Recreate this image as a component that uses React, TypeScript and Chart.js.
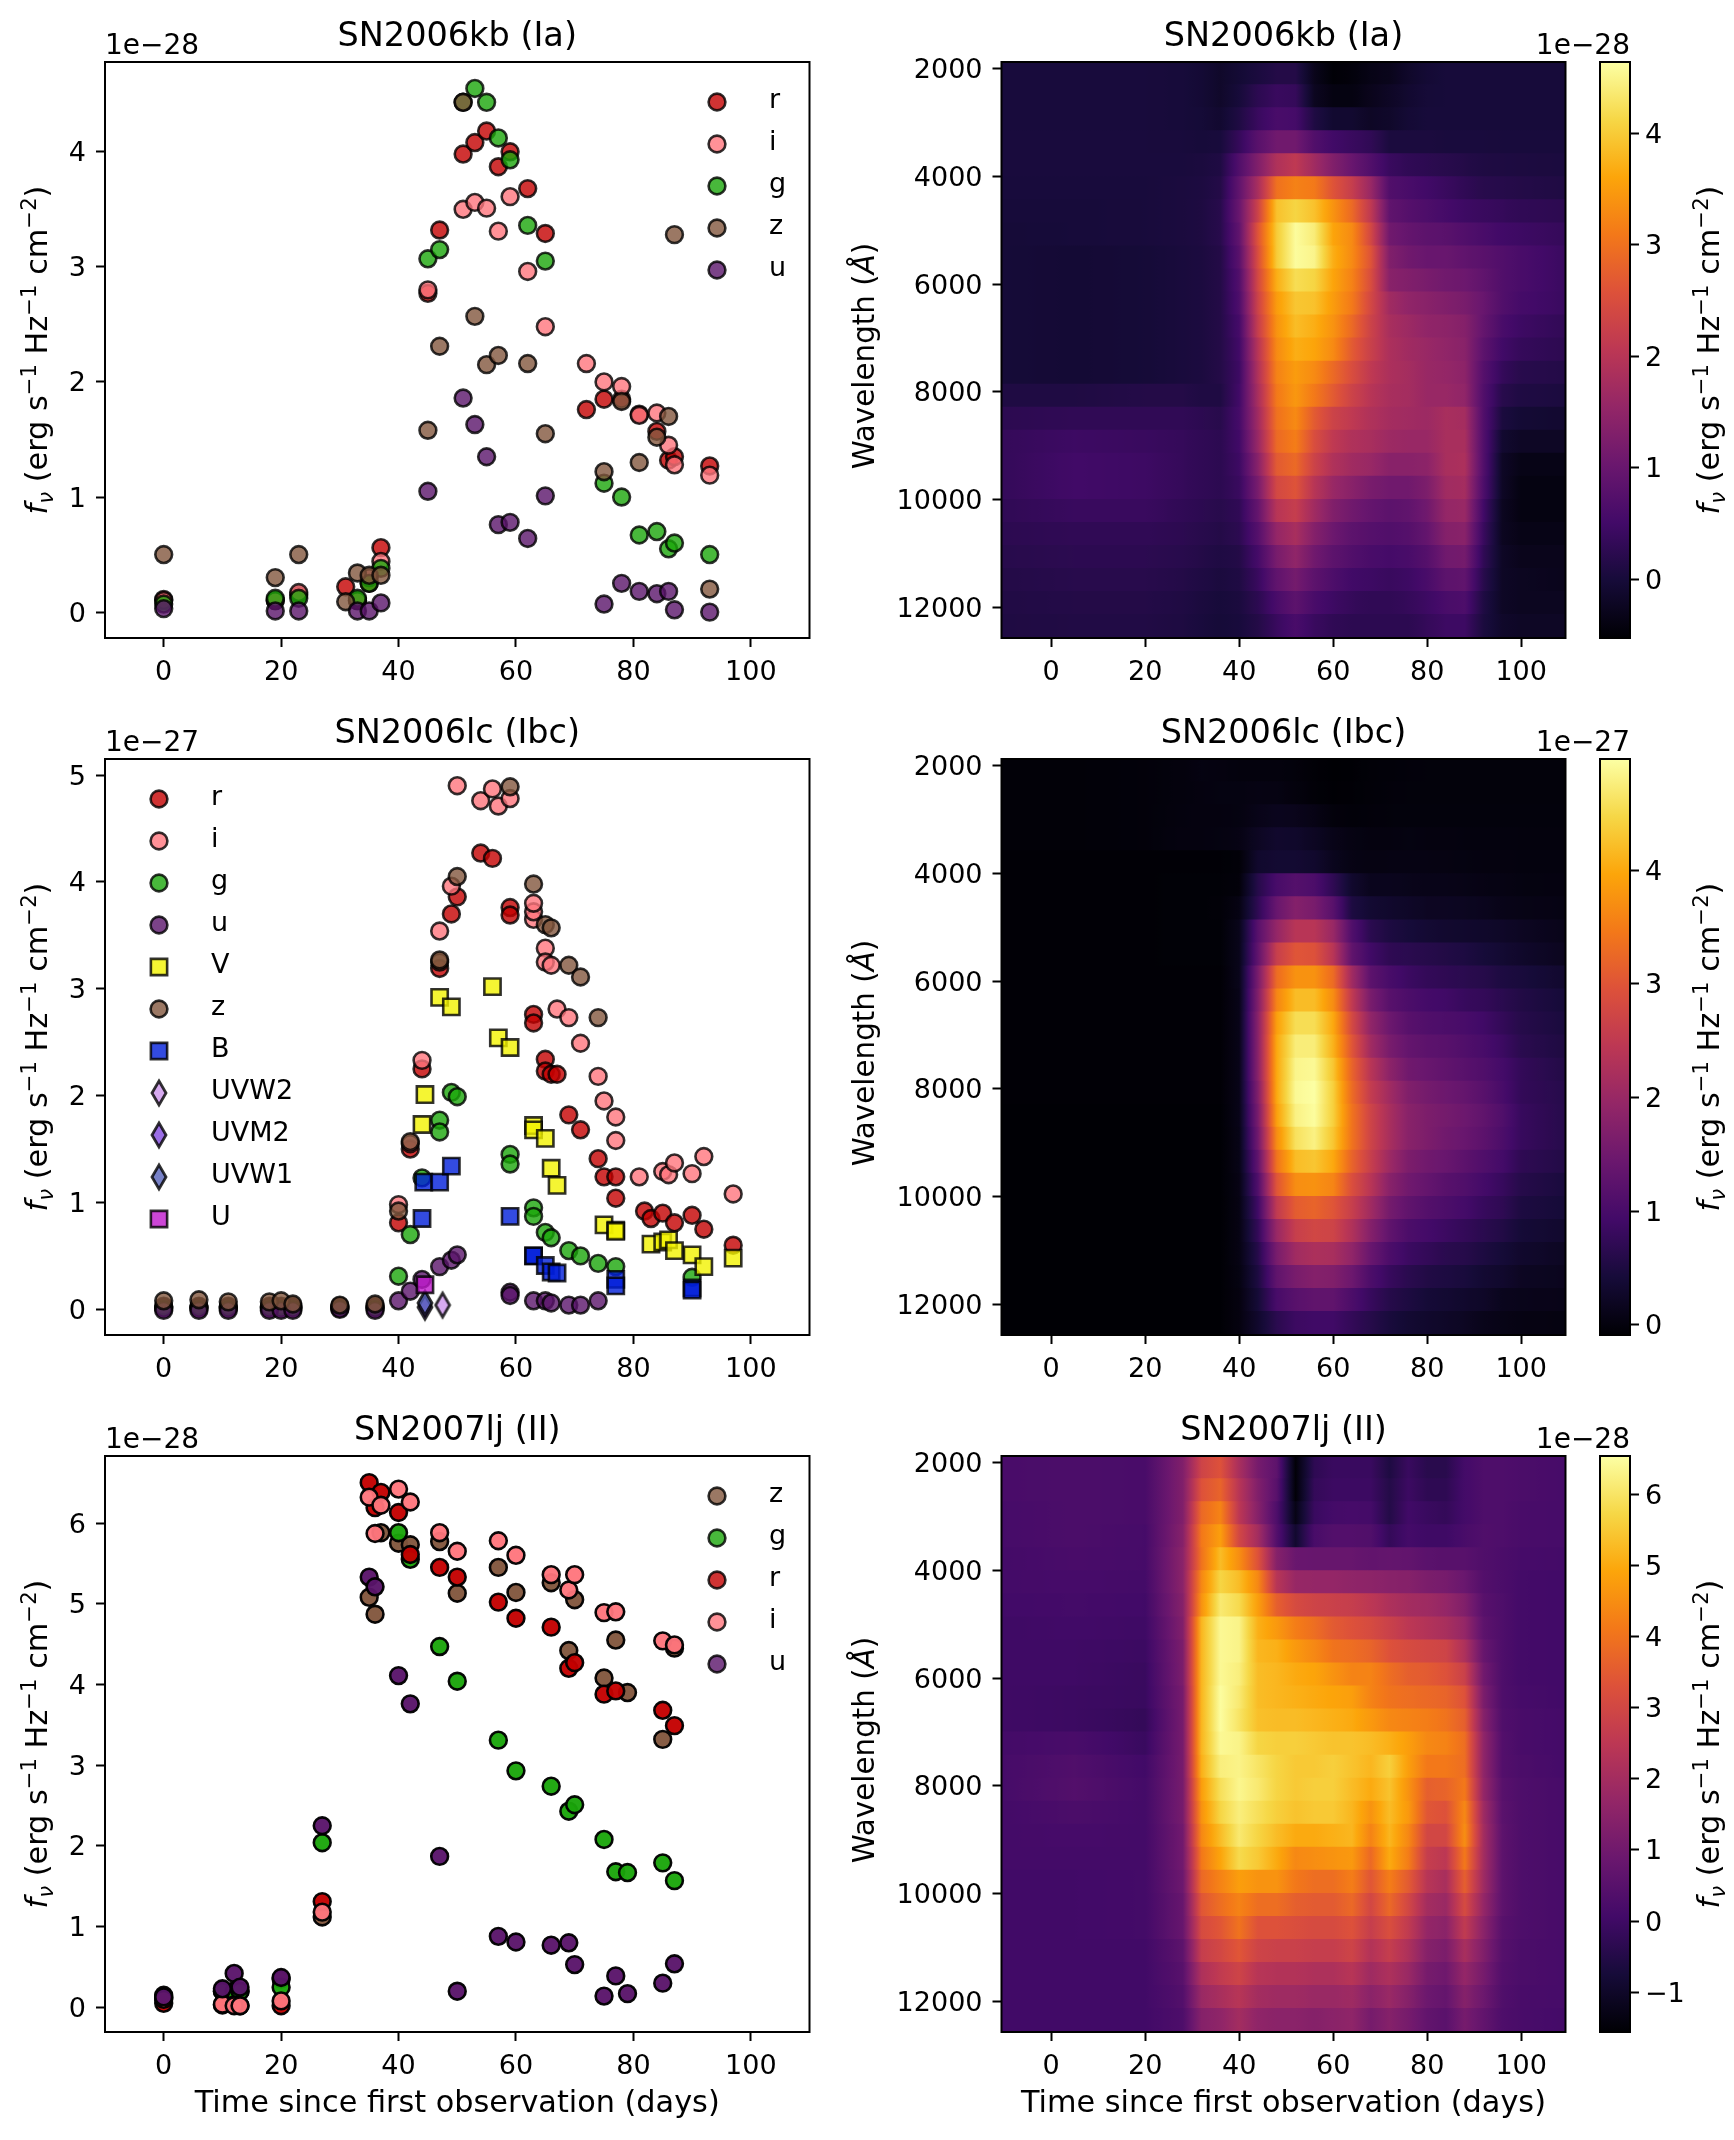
import React, { useEffect, useRef } from 'react';
import { Chart, registerables } from 'chart.js';
import { drawPoint } from 'chart.js/helpers';

Chart.register(...registerables);

type Pt = [number, number];

// light curves, [days, flux in units of the panel's 1e-N]
const kbR: Pt[] = [[0,.11],[19,.1],[23,.15],[31,.22],[33,.1],[35,.25],[37,.56],[45,2.77],[47,3.32],[51,3.98],[53,4.08],[55,4.18],[57,3.87],[59,4.0],[62,3.68],[65,3.29],[72,1.76],[75,1.85],[78,1.85],[81,1.72],[84,1.57],[86,1.32],[87,1.35],[93,1.27]];
const kbI: Pt[] = [[0,.1],[19,.1],[23,.17],[33,.1],[35,.3],[37,.44],[45,2.8],[51,3.5],[53,3.56],[55,3.51],[57,3.31],[59,3.61],[62,2.96],[65,2.48],[72,2.16],[75,2.0],[78,1.96],[81,1.71],[84,1.73],[86,1.45],[87,1.28],[93,1.19]];
const kbG: Pt[] = [[0,.07],[19,.12],[23,.12],[33,.12],[35,.25],[37,.38],[45,3.07],[47,3.15],[51,4.43],[53,4.55],[55,4.43],[57,4.12],[59,3.93],[62,3.36],[65,3.05],[75,1.12],[78,1.0],[81,.67],[84,.7],[86,.55],[87,.6],[93,.5]];
const kbZ: Pt[] = [[0,.5],[19,.3],[23,.5],[31,.09],[33,.34],[35,.32],[37,.32],[45,1.58],[47,2.31],[51,4.43],[53,2.57],[55,2.15],[57,2.23],[62,2.16],[65,1.55],[75,1.22],[78,1.83],[81,1.3],[84,1.52],[86,1.7],[87,3.28],[93,.2]];
const kbU: Pt[] = [[0,.03],[19,.01],[23,.01],[33,.01],[35,.01],[37,.08],[45,1.05],[51,1.86],[53,1.63],[55,1.35],[57,.76],[59,.78],[62,.64],[65,1.01],[75,.07],[78,.25],[81,.18],[84,.16],[86,.18],[87,.02],[93,0]];

const lcR: Pt[] = [[0,.02],[6,.02],[11,.02],[18,.02],[20,.02],[22,.02],[30,.02],[36,.02],[40,.81],[42,1.5],[44,2.25],[47,3.19],[49,3.7],[50,3.86],[54,4.27],[56,4.22],[59,3.76],[59,3.69],[63,2.76],[63,2.68],[65,2.34],[65,2.23],[66,2.2],[67,2.2],[69,1.82],[71,1.68],[74,1.41],[75,1.24],[77,1.24],[77,1.04],[81.9,.92],[83,.85],[85,.9],[87,.81],[90,.88],[92,.75],[97,.6]];
const lcI: Pt[] = [[0,.03],[6,.03],[11,.03],[18,.03],[20,.03],[22,.03],[30,.03],[36,.03],[40,.98],[42,1.55],[44,2.33],[47,3.54],[49,3.96],[50,4.9],[54,4.76],[56,4.87],[57,4.71],[59,4.78],[63,3.65],[63,3.72],[63,3.8],[65,3.38],[65,3.25],[66,3.22],[67,2.81],[69,2.73],[71,2.49],[74,2.18],[75,1.95],[77,1.8],[77,1.58],[81,1.24],[85,1.29],[86,1.26],[87,1.37],[90,1.27],[92,1.43],[97,1.08]];
const lcG: Pt[] = [[0,.01],[6,.01],[11,.01],[18,.01],[20,.01],[22,.01],[30,.01],[36,.01],[40,.31],[42,.7],[44,1.23],[47,1.77],[47,1.66],[49,2.03],[50,1.99],[59,1.45],[59,1.36],[63,.95],[63,.87],[65,.72],[66,.67],[69,.55],[71,.5],[74,.43],[77,.4],[90,.3]];
const lcU: Pt[] = [[0,-.01],[6,-.01],[11,-.01],[18,-.01],[20,-.01],[22,-.01],[30,0],[36,-.01],[40,.08],[42,.17],[44,.28],[47,.4],[49,.46],[50,.51],[59,.16],[59,.13],[63,.08],[65,.08],[66,.06],[69,.04],[71,.04],[74,.08]];
const lcV: Pt[] = [[44.5,2.01],[44,1.73],[47,2.92],[49,2.83],[56,3.02],[57,2.54],[59,2.45],[63,1.72],[63,1.68],[65,1.6],[66,1.32],[67,1.16],[75,.79],[77,.74],[77,.73],[83,.61],[85,.63],[86,.65],[87,.55],[90,.51],[92,.4],[97,.48]];
const lcZ: Pt[] = [[0,.08],[6,.09],[11,.07],[18,.07],[20,.08],[22,.05],[30,.04],[36,.05],[40,.92],[42,1.57],[47,3.25],[47,3.27],[50,4.05],[59,4.89],[63,3.98],[65,3.6],[66,3.57],[69,3.22],[71,3.11],[74,2.73]];
const lcB: Pt[] = [[44,.85],[44.3,1.19],[47,1.19],[49,1.34],[59,.87],[63,.5],[63,.5],[65,.41],[66,.35],[67,.34],[77,.28],[77,.22],[90,.2],[90,.18]];
const lcW2: Pt[] = [[47.5,.04]];
const lcM2: Pt[] = [[44.5,.02]];
const lcW1: Pt[] = [[44.5,.06]];
const lcUU: Pt[] = [[44.5,.23]];

const ljZ: Pt[] = [[0,.15],[10,.2],[12,.2],[13,.2],[20,.35],[27,1.12],[35,5.08],[36,4.87],[37,5.88],[40,5.75],[42,5.73],[47,5.77],[50,5.13],[57,5.45],[60,5.14],[66,5.26],[69,4.42],[70,5.05],[75,4.08],[77,4.55],[79,3.9],[85,3.32],[87,4.45]];
const ljG: Pt[] = [[0,.12],[10,.2],[12,.2],[13,.2],[20,.25],[27,2.04],[40,5.88],[42,5.55],[47,4.47],[50,4.04],[57,3.31],[60,2.93],[66,2.74],[69,2.43],[70,2.51],[75,2.08],[77,1.68],[79,1.67],[85,1.79],[87,1.57]];
const ljR: Pt[] = [[0,.05],[10,.03],[12,.03],[13,.02],[20,.02],[27,1.31],[35,6.5],[36,6.19],[37,6.38],[40,6.13],[42,5.61],[47,5.45],[50,5.33],[57,5.02],[60,4.82],[66,4.71],[69,4.2],[70,4.27],[75,3.88],[77,3.92],[85,3.68],[87,3.49]];
const ljI: Pt[] = [[0,.1],[10,.04],[12,.02],[13,.02],[20,.08],[27,1.18],[35,6.32],[36,5.87],[37,6.22],[40,6.42],[42,6.26],[47,5.88],[50,5.65],[57,5.78],[60,5.6],[66,5.36],[69,5.17],[70,5.36],[75,4.89],[77,4.9],[85,4.54],[87,4.49]];
const ljU: Pt[] = [[0,.13],[10,.23],[12,.42],[13,.25],[20,.37],[27,2.25],[35,5.33],[36,5.21],[40,4.11],[42,3.76],[47,1.87],[50,.2],[57,.88],[60,.81],[66,.77],[69,.8],[70,.53],[75,.14],[77,.39],[79,.17],[85,.3],[87,.54]];

// heat map rows: one row per wavelength, one value per entry of heatDays
const wavelengths = [2089,2517,2945,3373,3801,4229,4656,5084,5512,5940,6368,6796,7223,7651,8079,8507,8935,9363,9790,10218,10646,11074,11502,11930,12357];
const heatDays = [-10,5,20,28,32,36,40,44,48,52,56,60,64,68,72,76,80,84,88,92,96,100,110];

const kbGrid = [
  [.02,.02,.02,0,-.05,-.15,-.05,.05,.15,.15,-.3,-.5,-.45,-.35,-.3,-.15,-.05,0,0,0,0,0,0],
  [.02,.02,.02,0,-.05,-.15,0,.25,.4,.35,-.25,-.4,-.4,-.3,-.2,-.1,-.02,0,0,0,0,0,0],
  [.02,.02,.02,0,-.03,-.1,.1,.4,.6,.55,.1,-.1,-.1,-.2,-.15,-.05,0,0,0,0,0,0,0],
  [.03,.03,.03,.02,0,.02,.35,.8,1.1,1.1,.7,.5,.4,.3,.05,.05,.05,.03,.03,.03,.02,.02,.02],
  [.03,.03,.03,.03,.05,.1,.7,1.3,1.9,2.1,1.7,1.3,1,.7,.4,.3,.25,.2,.15,.1,.08,.07,.05],
  [.02,.02,.02,.05,.07,.15,.9,1.8,3,3.2,3.1,2.6,2.2,1.6,.7,.6,.5,.4,.3,.2,.18,.15,.1],
  [0,0,.02,.05,.08,.2,1,2.3,3.9,4.1,3.9,3.4,2.9,2.1,.9,.75,.65,.55,.45,.4,.35,.3,.25],
  [-.02,0,.02,.05,.08,.2,.9,2.6,4,4.6,4.4,3.6,3.3,2.4,1.1,.95,.85,.8,.7,.6,.5,.45,.35],
  [-.02,-.05,-.02,.03,.06,.15,.8,2.5,4,4.6,4.5,3.7,3.3,2.6,1.3,1.1,1,1,.9,.8,.7,.6,.4],
  [-.02,-.05,-.02,.03,.06,.15,.7,2.4,3.7,4.2,4.1,3.6,3.2,2.5,1.4,1.3,1.2,1.1,1.05,.9,.7,.6,.4],
  [-.02,-.05,-.02,.03,.06,.15,.65,2.3,3.5,3.95,3.9,3.5,3.1,2.4,1.7,1.5,1.4,1.3,1.2,1,.7,.55,.4],
  [-.02,-.05,-.02,.03,.06,.15,.55,2.2,3.4,3.85,3.7,3.4,2.9,2.3,1.8,1.65,1.5,1.45,1.35,.95,.6,.45,.3],
  [-.02,-.05,-.02,.03,.06,.15,.5,2,3.3,3.7,3.6,3.3,2.7,2.25,1.85,1.7,1.6,1.5,1.4,.85,.5,.35,.25],
  [-.02,-.05,-.02,.03,.06,.15,.45,1.9,3.2,3.5,3.3,2.9,2.5,2.1,1.85,1.75,1.6,1.55,1.45,.75,.35,.2,.15],
  [.1,.1,.15,.15,.1,.1,.5,1.8,3.1,3.45,3.1,2.7,2.3,2,1.8,1.75,1.6,1.6,1.5,.7,.2,.1,.05],
  [.25,.3,.3,.3,.25,.2,.55,1.7,3,3.3,2.7,2.3,2.1,1.9,1.75,1.7,1.65,1.8,1.75,.7,.05,-.05,-.1],
  [.35,.45,.4,.35,.3,.25,.5,1.6,2.9,3.15,2.5,2.1,1.9,1.8,1.65,1.6,1.6,1.8,1.8,.7,-.1,-.2,-.2],
  [.35,.5,.45,.35,.3,.25,.45,1.4,2.7,2.9,2.3,1.9,1.7,1.6,1.4,1.4,1.45,1.8,1.85,.7,-.2,-.35,-.35],
  [.35,.5,.45,.35,.3,.25,.4,1.2,2.4,2.6,2,1.6,1.4,1.2,1.1,1.1,1.25,1.7,1.75,.65,-.2,-.4,-.4],
  [.3,.4,.4,.3,.25,.2,.3,.95,2,2.2,1.7,1.3,1.1,.95,.85,.9,1.1,1.55,1.6,.5,-.25,-.4,-.4],
  [.25,.3,.3,.25,.2,.15,.25,.75,1.55,1.8,1.35,1.05,.85,.75,.7,.75,.95,1.35,1.4,.4,-.25,-.35,-.35],
  [.2,.25,.25,.2,.15,.1,.15,.55,1.2,1.5,1.1,.85,.7,.6,.55,.6,.75,1.1,1.15,.3,-.2,-.3,-.3],
  [.15,.2,.2,.15,.1,.05,.1,.4,.9,1.15,.85,.65,.5,.45,.4,.45,.6,.85,.9,.2,-.2,-.25,-.3],
  [.12,.15,.15,.1,.05,0,.05,.25,.6,.85,.6,.45,.35,.3,.3,.35,.45,.6,.65,.1,-.2,-.25,-.25],
  [.1,.12,.12,.08,.03,-.02,.02,.15,.4,.6,.4,.3,.25,.25,.25,.25,.35,.45,.45,.05,-.15,-.2,-.2],
];

const lcGrid = [
  [-.05,-.05,-.03,0,.03,.02,0,0,0,-.02,-.06,-.09,-.08,-.05,-.04,-.03,-.02,-.02,-.02,-.02,-.02,-.02,-.02],
  [-.05,-.05,-.03,0,.02,.03,.03,.05,.04,0,-.05,-.08,-.07,-.05,-.03,-.02,-.02,-.02,-.02,-.02,-.02,-.02,-.02],
  [-.05,-.05,-.03,.01,.02,.02,.03,.1,.15,.13,.07,-.02,-.04,-.03,-.02,-.01,-.01,-.01,-.01,-.01,-.01,-.01,-.01],
  [-.05,-.05,-.03,.02,.02,.03,.06,.2,.3,.28,.2,.1,.04,.02,.02,.03,.02,.02,.01,.01,.01,0,0],
  [-.07,-.07,-.07,-.07,-.07,-.07,-.05,.3,.35,.35,.3,.15,.06,.04,.05,.05,.05,.04,.03,.02,.02,.01,0],
  [-.07,-.07,-.07,-.06,-.06,-.06,-.03,.6,1,1.15,1.05,.7,.3,.15,.15,.12,.1,.1,.08,.06,.05,.03,.02],
  [-.07,-.07,-.07,-.06,-.06,-.05,.05,.7,1.4,1.75,1.6,1.2,.5,.35,.3,.25,.2,.2,.18,.15,.1,.08,.05],
  [-.07,-.07,-.07,-.06,-.06,-.06,.12,1.2,1.95,2.4,2.4,2,1.1,.65,.5,.42,.36,.32,.3,.28,.25,.2,.1],
  [-.07,-.07,-.07,-.06,-.06,-.06,.12,1.3,2.6,3,2.95,2.4,1.3,.9,.7,.65,.6,.55,.5,.42,.35,.28,.15],
  [-.07,-.07,-.07,-.07,-.07,-.07,.12,1.6,3.3,3.75,3.75,3.3,2.1,1.25,1,.85,.75,.7,.65,.6,.5,.45,.3],
  [-.07,-.07,-.07,-.07,-.07,-.07,.1,1.7,3.6,4.2,4.2,3.7,2.5,1.6,1.2,1.05,.95,.9,.8,.75,.65,.55,.4],
  [-.07,-.07,-.07,-.07,-.07,-.07,.1,1.8,3.9,4.55,4.55,4,2.8,1.9,1.45,1.2,1.1,1.05,1,.9,.75,.6,.45],
  [-.07,-.07,-.07,-.07,-.07,-.07,.1,1.8,4,4.75,4.75,4.1,3,2.1,1.6,1.35,1.25,1.2,1.1,1,.85,.65,.5],
  [-.07,-.07,-.07,-.07,-.07,-.07,.1,1.8,4,4.85,4.9,4.3,3.2,2.4,1.85,1.5,1.4,1.3,1.2,1.1,.95,.75,.55],
  [-.07,-.07,-.07,-.07,-.07,-.07,.1,1.7,4,4.9,4.98,4.4,3.3,2.55,2.1,1.7,1.55,1.45,1.35,1.2,1,.75,.6],
  [-.08,-.08,-.08,-.08,-.08,-.08,.1,1.6,3.9,4.8,4.95,4.4,3.4,2.7,2.2,1.8,1.65,1.55,1.45,1.3,1.1,.8,.6],
  [-.08,-.08,-.08,-.08,-.08,-.08,.08,1.5,3.7,4.6,4.8,4.3,3.4,2.7,2.2,1.8,1.65,1.5,1.4,1.25,1.05,.8,.6],
  [-.08,-.08,-.08,-.08,-.08,-.08,.08,1.3,3.4,4.2,4.3,4,3.2,2.6,2.05,1.65,1.5,1.4,1.25,1.1,.95,.7,.55],
  [-.08,-.08,-.08,-.08,-.08,-.08,.06,1.1,3,3.7,3.75,3.6,2.9,2.4,1.8,1.5,1.35,1.2,1.1,.95,.8,.6,.45],
  [-.08,-.08,-.08,-.08,-.08,-.08,.05,.9,2.5,3.1,3.2,3,2.6,2.1,1.55,1.3,1.15,1.05,.95,.8,.7,.5,.4],
  [-.08,-.08,-.08,-.08,-.08,-.08,.05,.75,2,2.6,2.75,2.7,2.3,1.75,1.3,1.05,.95,.85,.75,.65,.55,.4,.3],
  [-.08,-.08,-.08,-.08,-.08,-.08,.05,.6,1.6,2.1,2.25,2.2,1.9,1.4,1.05,.85,.75,.65,.6,.5,.4,.3,.2],
  [-.08,-.08,-.08,-.08,-.08,-.08,.03,.5,1.3,1.6,1.75,1.7,1.45,1.05,.8,.65,.55,.5,.45,.35,.3,.2,.15],
  [-.08,-.08,-.08,-.08,-.08,-.08,.02,.4,1,1.2,1.3,1.3,1.05,.8,.6,.5,.4,.35,.3,.25,.15,.12,.1],
  [-.08,-.08,-.08,-.08,-.08,-.08,.02,.3,.65,.85,.9,.9,.75,.6,.45,.35,.3,.25,.2,.12,.08,.05,.03],
];

const ljGrid = [
  [.2,.25,.2,1.3,2.9,3.3,2.1,1.1,.6,-1.5,-.3,-.1,-.1,-.1,-.6,-.1,-.4,-.4,.1,.3,.3,.25,.15],
  [.2,.25,.2,1.3,3.3,3.7,2.4,1.3,.5,-1.5,-.2,-.05,-.05,-.05,-.5,-.05,-.3,-.3,.1,.3,.3,.25,.15],
  [.15,.25,.2,1.3,3.8,4.3,2.5,1.4,.3,-1.3,-.1,.1,.15,.1,-.5,.05,-.1,-.2,.1,.3,.3,.2,.15],
  [.15,.25,.15,1.4,4.1,4.8,3,2,.4,-.9,.2,.4,.4,.35,-.2,.1,0,0,.2,.35,.3,.2,.15],
  [.1,.2,.15,1.5,4,5.3,4.5,3.3,1.4,.85,.8,.8,.8,.7,.75,.7,.55,.5,.5,.35,.25,.15,.1],
  [.1,.15,.1,1.5,4.4,5.7,5.3,4.4,2.4,1.75,1.7,1.7,1.6,1.55,1.45,1.4,1.2,1.1,.85,.4,.25,.1,.05],
  [.05,.1,.05,1.4,4.6,6.1,5.8,4.8,3.6,3.1,2.9,2.8,2.7,2.5,2.2,2,1.9,1.7,1.3,.5,.3,.1,.05],
  [0,.05,0,1.3,5.2,6.4,6.3,5.1,4.7,4.2,3.9,3.5,3.3,3.1,2.8,2.5,2.3,2.1,1.7,.6,.3,.1,.05],
  [0,0,-.05,1.2,5.2,6.4,6.3,5.2,5.1,4.7,4.4,4,3.9,3.7,3.3,3.1,3,2.9,2.2,.8,.3,.1,.05],
  [0,0,-.1,1.2,5.2,6.4,6.2,5.3,5.2,5,4.9,4.6,4.3,4.3,3.9,3.6,3.5,3.3,2.8,1,.3,.1,.05],
  [0,-.05,-.1,1.1,5.2,6.5,6.1,5.3,5.2,5.1,5,4.9,4.8,4.3,4,3.9,3.8,3.7,3.3,1.2,.3,.15,.05],
  [0,-.05,-.2,1.1,5.2,6.5,6,5.35,5.3,5.3,5.2,5.1,5,4.7,4.4,4.3,4.2,4,3.6,1.4,.35,.2,.1],
  [.1,.2,-.1,1.1,5.2,6.4,6.3,5.7,5.6,5.6,5.5,5.4,5.4,5.3,5.1,4.8,4.4,4.3,3.9,1.6,.4,.2,.1],
  [.15,.35,.05,1.1,5.1,6.2,6.3,6,5.7,5.5,5.5,5.6,5.4,5.2,5.6,4.8,4.1,4.1,3.9,1.6,.4,.25,.1],
  [.15,.4,.1,1.1,4.8,5.9,6.35,6.1,5.7,5.5,5.6,5.6,5.3,5,5.4,4.6,3.6,3.7,4.1,1.7,.5,.3,.15],
  [.1,.25,.1,1.1,4.6,5.7,6.2,5.9,5.6,5.4,5.5,5.5,5.2,4.6,5.3,4.7,3.4,3.3,4.4,1.9,.55,.3,.15],
  [.1,.15,.1,1,4.4,5.3,6.1,5.7,5.3,5,5,5.1,5.2,4.3,5.2,4.4,3,3,4.5,2,.6,.3,.15],
  [.1,.1,.1,1,4.1,4.9,5.8,5.5,5,4.4,4.5,4.6,4.7,3.8,5,4.2,2.7,2.5,4.1,2,.6,.3,.15],
  [.05,.05,.1,.9,3.8,4.3,4.8,4.6,4.6,4.1,3.9,3.9,4.2,3.4,4.2,3.5,2.4,2.1,3.6,1.9,.6,.3,.15],
  [.05,.05,.1,.8,3.4,3.9,4.3,3.9,3.9,3.6,3.5,3.5,3.8,3,3.8,3,2,1.8,3.1,1.7,.6,.3,.15],
  [.05,.05,.1,.8,3.1,3.4,4,3.3,3.3,3.2,3.1,3.1,3.3,2.7,3.2,2.6,1.7,1.5,2.6,1.5,.5,.3,.15],
  [.05,.05,.05,.6,2.7,3,3.4,2.9,2.8,2.8,2.7,2.7,2.9,2.3,2.7,2.2,1.4,1.2,2.1,1.3,.45,.25,.15],
  [.05,.05,.05,.5,2.2,2.6,2.9,2.4,2.3,2.3,2.2,2.2,2.4,1.9,2.2,1.8,1.1,.95,1.7,1.1,.4,.25,.15],
  [.05,.05,.05,.4,1.8,2.1,2.4,2,1.9,1.9,1.8,1.8,1.9,1.5,1.8,1.4,.9,.75,1.4,.9,.35,.2,.15],
  [.05,.05,.05,.3,1.4,1.6,2,1.6,1.5,1.5,1.4,1.5,1.6,1.1,1.4,1.1,.7,.55,1.1,.7,.3,.2,.1],
];

const dayTicks = [0, 20, 40, 60, 80, 100];
const wavelengthTicks = [2000, 4000, 6000, 8000, 10000, 12000];

const inferno = ['#000004','#160b39','#420a68','#6a176e','#932667','#bc3754','#dd513a','#f37819','#fca50a','#f6d746','#fcffa4'];

const FONT = '"DejaVu Sans"';
const TICK_PX = 27;
const OFFSET_PX = 28;
const LABEL_PX = 30.3;
const TITLE_PX = 33.5;
const EDGE = 2.6;

// band -> marker
const bandColors: Record<string, [number, number, number]> = {
  r: [196, 0, 0], i: [255, 118, 125], g: [26, 166, 10], u: [90, 20, 106], z: [130, 86, 61],
  V: [243, 243, 0], B: [0, 30, 217], UVW2: [205, 149, 236], UVM2: [130, 74, 224], UVW1: [86, 99, 186], U: [193, 24, 205],
};
const squareBands = ['V', 'B', 'U'];
const diamondBands = ['UVW2', 'UVM2', 'UVW1'];

const rgba = (c: number[], a: number) => `rgba(${c[0]},${c[1]},${c[2]},${a})`;

const thinDiamond = (band: string, alpha: number) => {
  const cv = document.createElement('canvas');
  cv.width = 24;
  cv.height = 36;
  const c = cv.getContext('2d')!;
  c.beginPath();
  c.moveTo(12, 6);
  c.lineTo(19, 18);
  c.lineTo(12, 30);
  c.lineTo(5, 18);
  c.closePath();
  c.fillStyle = rgba(bandColors[band], alpha);
  c.fill();
  c.lineWidth = 2.8;
  c.strokeStyle = 'rgba(0,0,0,0.8)';
  c.stroke();
  return cv;
};

const markerFor = (band: string, alpha: number) => {
  if (squareBands.includes(band)) return { pointStyle: 'rect', radius: 11.5 };
  if (diamondBands.includes(band)) return { pointStyle: thinDiamond(band, alpha), radius: 9 };
  return { pointStyle: 'circle', radius: 8.4 };
};

const hex = (s: string) => [1, 3, 5].map(i => parseInt(s.slice(i, i + 2), 16));
const infernoColor = (f: number) => {
  const p = Math.min(Math.max(f, 0), 1) * (inferno.length - 1);
  const i = Math.min(Math.floor(p), inferno.length - 2);
  const a = hex(inferno[i]);
  const b = hex(inferno[i + 1]);
  const t = p - i;
  return `rgb(${a.map((v, k) => Math.round(v + (b[k] - v) * t)).join(',')})`;
};

type Piece = { t: string; i?: boolean; s?: number; d?: number };
const fluxLabel: Piece[] = [
  { t: 'f', i: true }, { t: 'ν', i: true, s: 0.7, d: 6 }, { t: ' (erg s' }, { t: '−1', s: 0.7, d: -11 },
  { t: ' Hz' }, { t: '−1', s: 0.7, d: -11 }, { t: ' cm' }, { t: '−2', s: 0.7, d: -11 }, { t: ')' },
];
const wavelengthLabel: Piece[] = [{ t: 'Wavelength (', s: 0.97 }, { t: 'Å', i: true, s: 0.97 }, { t: ')', s: 0.97 }];
const timeLabel: Piece[] = [{ t: 'Time since first observation (days)' }];

const drawPieces = (ctx: CanvasRenderingContext2D, pieces: Piece[], x: number, y: number, rot: number) => {
  const fontOf = (p: Piece) => `${p.i ? 'italic ' : ''}${LABEL_PX * (p.s || 1)}px ${FONT}`;
  let total = 0;
  pieces.forEach(p => { ctx.font = fontOf(p); total += ctx.measureText(p.t).width; });
  ctx.save();
  ctx.translate(x, y);
  ctx.rotate(rot);
  ctx.fillStyle = '#000';
  ctx.textAlign = 'left';
  ctx.textBaseline = 'alphabetic';
  let at = -total / 2;
  pieces.forEach(p => {
    ctx.font = fontOf(p);
    ctx.fillText(p.t, at, p.d || 0);
    at += ctx.measureText(p.t).width;
  });
  ctx.restore();
};

type Deco = {
  title?: string;
  offset?: string;
  offsetX?: number;
  offsetAlign?: CanvasTextAlign;
  yLabel?: Piece[];
  yLabelX?: number;
  yLabelShift?: number;
  xLabel?: boolean;
  legend?: string[];
  legendX?: number;
};

const decoPlugin = (d: Deco) => ({
  id: 'deco',
  afterDraw(chart: any) {
    const { ctx, chartArea: a } = chart;
    ctx.save();
    ctx.strokeStyle = '#000';
    ctx.lineWidth = 2;
    ctx.strokeRect(a.left, a.top, a.right - a.left, a.bottom - a.top);
    ctx.fillStyle = '#000';
    ctx.textBaseline = 'alphabetic';
    if (d.title) {
      ctx.font = `${TITLE_PX}px ${FONT}`;
      ctx.textAlign = 'center';
      ctx.fillText(d.title, (a.left + a.right) / 2, 45.5);
    }
    if (d.offset) {
      ctx.font = `${OFFSET_PX}px ${FONT}`;
      ctx.textAlign = d.offsetAlign || 'left';
      ctx.fillText(d.offset, d.offsetX ?? a.left, 54);
    }
    if (d.yLabel) drawPieces(ctx, d.yLabel, d.yLabelX!, (a.top + a.bottom) / 2 + (d.yLabelShift || 0), -Math.PI / 2);
    if (d.xLabel) drawPieces(ctx, timeLabel, (a.left + a.right) / 2, 718, 0);
    if (d.legend) {
      d.legend.forEach((band, k) => {
        const y = 102 + k * 42;
        const m = markerFor(band, 0.8);
        ctx.fillStyle = rgba(bandColors[band], 0.8);
        ctx.strokeStyle = 'rgba(0,0,0,0.8)';
        ctx.lineWidth = EDGE;
        drawPoint(ctx, { radius: m.radius, pointStyle: m.pointStyle, rotation: 0, borderWidth: EDGE }, d.legendX!, y);
        ctx.fillStyle = '#000';
        ctx.font = `${TICK_PX}px ${FONT}`;
        ctx.textAlign = 'left';
        ctx.textBaseline = 'middle';
        ctx.fillText(band, d.legendX! + 52, y - 1);
      });
    }
    ctx.restore();
  },
});

const ticksFrom = (values: number[]) => (axis: any) => {
  axis.ticks = values.map(value => ({ value }));
};
const numberLabel = (v: number | string) => String(v).replace('-', '−');

const axisBase = (values: number[], fit: (a: any) => void, padding = 10, labelOffset = 0) => ({
  afterBuildTicks: ticksFrom(values),
  afterFit: fit,
  border: { display: false },
  grid: { drawOnChartArea: false, drawTicks: true, tickLength: 9, tickWidth: 2, tickColor: '#000', offset: false },
  ticks: {
    color: '#000', font: { family: FONT, size: TICK_PX }, padding, labelOffset,
    maxRotation: 0, autoSkip: false, callback: numberLabel,
  },
});

const range = (lo: number, hi: number) => {
  const out: number[] = [];
  for (let v = Math.ceil(lo); v <= hi; v++) out.push(v);
  return out;
};

const LEFT_W = 867;
const HEAT_X = 840;
const HEAT_W = 800;
const AX_TOP = 62;
const AX_H = 576;
const Y_NUDGE = 2.5;

const scatterConfig = (opts: {
  title: string; offset: string; series: [string, Pt[]][]; yMin: number; yMax: number; alpha: number;
  legendX: number; height: number; xLabel?: boolean;
}) => ({
  type: 'scatter',
  data: {
    datasets: opts.series.map(([band, pts], k) => {
      const m = markerFor(band, opts.alpha);
      return {
        label: band,
        order: opts.series.length - k,
        data: pts.map(([x, y]) => ({ x, y })),
        pointStyle: m.pointStyle,
        pointRadius: m.radius,
        pointBackgroundColor: rgba(bandColors[band], opts.alpha),
        pointBorderColor: `rgba(0,0,0,${Math.max(opts.alpha, 0.8)})`,
        pointBorderWidth: EDGE,
      };
    }),
  },
  options: {
    animation: false,
    responsive: false,
    events: [],
    layout: { padding: { top: AX_TOP, right: LEFT_W - 809.5, left: 0, bottom: 0 } },
    plugins: { legend: { display: false }, tooltip: { enabled: false } },
    scales: {
      x: { type: 'linear', min: -10, max: 110, ...axisBase(dayTicks, a => { a.height = opts.height - AX_TOP - AX_H; }) },
      y: { type: 'linear', min: opts.yMin, max: opts.yMax, ...axisBase(range(opts.yMin, opts.yMax), a => { a.width = 105; }, 10, Y_NUDGE) },
    },
  },
  plugins: [decoPlugin({
    title: opts.title, offset: opts.offset, yLabel: fluxLabel, yLabelX: 47,
    xLabel: opts.xLabel, legend: opts.series.map(s => s[0]), legendX: opts.legendX,
  })],
});

const heatConfig = (opts: {
  title: string; offset: string; grid: number[][]; vMin: number; vMax: number; height: number; xLabel?: boolean;
}) => {
  const T0 = -10.57;
  const T1 = 109.43;
  const rowFill = (ctx: any) => {
    const chart = ctx.chart;
    const row = opts.grid[ctx.dataIndex];
    if (!row || !chart.chartArea) return 'transparent';
    const sx = chart.scales.x;
    const g = chart.ctx.createLinearGradient(sx.getPixelForValue(T0), 0, sx.getPixelForValue(T1), 0);
    for (let t = Math.ceil(T0); t <= Math.floor(T1); t++) {
      let k = 0;
      while (k < heatDays.length - 2 && heatDays[k + 1] < t) k++;
      const w = Math.min(Math.max((t - heatDays[k]) / (heatDays[k + 1] - heatDays[k]), 0), 1);
      const v = row[k] + (row[k + 1] - row[k]) * w;
      g.addColorStop((t - T0) / (T1 - T0), infernoColor((v - opts.vMin) / (opts.vMax - opts.vMin)));
    }
    return g;
  };
  return {
    type: 'bar',
    data: {
      datasets: [{
        data: wavelengths.map(y => ({ y, x: [T0, T1] })),
        backgroundColor: rowFill,
        borderWidth: 0,
        barPercentage: 1.08, // rows overlap a little so no white seam shows between them
        categoryPercentage: 1,
      }],
    },
    options: {
      indexAxis: 'y',
      animation: false,
      responsive: false,
      events: [],
      layout: { padding: { top: AX_TOP, right: HEAT_W - (1565.5 - HEAT_X), left: 0, bottom: 0 } },
      plugins: { legend: { display: false }, tooltip: { enabled: false } },
      scales: {
        x: { type: 'linear', min: T0, max: T1, offset: false, ...axisBase(dayTicks, a => { a.height = opts.height - AX_TOP - AX_H; }) },
        y: { type: 'linear', reverse: true, min: 1875, max: 12570, offset: false, ...axisBase(wavelengthTicks, a => { a.width = 1001.5 - HEAT_X; }, 10, Y_NUDGE) },
      },
    },
    plugins: [decoPlugin({
      title: opts.title, offset: opts.offset, offsetX: 1630 - HEAT_X, offsetAlign: 'right',
      yLabel: wavelengthLabel, yLabelX: 34, yLabelShift: 6, xLabel: opts.xLabel,
    })],
  };
};

const colorbarConfig = (vMin: number, vMax: number, ticks: number[], height: number) => ({
  type: 'bar',
  data: {
    labels: ['flux'],
    datasets: [{
      data: [[vMin, vMax]],
      borderWidth: 0,
      barPercentage: 1,
      categoryPercentage: 1,
      backgroundColor: (ctx: any) => {
        const chart = ctx.chart;
        if (!chart.chartArea) return 'transparent';
        const g = chart.ctx.createLinearGradient(0, chart.chartArea.bottom, 0, chart.chartArea.top);
        inferno.forEach((c, i) => g.addColorStop(i / (inferno.length - 1), c));
        return g;
      },
    }],
  },
  options: {
    animation: false,
    responsive: false,
    events: [],
    layout: { padding: { top: AX_TOP, left: 10, right: 0, bottom: height - AX_TOP - AX_H } },
    plugins: { legend: { display: false }, tooltip: { enabled: false } },
    scales: {
      x: { display: false },
      y: { type: 'linear', position: 'right', min: vMin, max: vMax, ...axisBase(ticks, a => { a.width = 104; }, 6, Y_NUDGE) },
    },
  },
  plugins: [decoPlugin({ yLabel: fluxLabel, yLabelX: 129 })],
});

const ChartBox: React.FC<{ x: number; y: number; w: number; h: number; make: () => any }> = ({ x, y, w, h, make }) => {
  const ref = useRef<HTMLCanvasElement>(null);
  useEffect(() => {
    if (!ref.current) return;
    const chart = new Chart(ref.current, make());
    return () => chart.destroy();
  }, []);
  return <canvas ref={ref} width={w} height={h} style={{ position: 'absolute', left: x, top: y, width: w, height: h }} />;
};

const ROW_TOPS = [0, 697, 1394];
const ROW_H = [697, 697, 746];

export default function App() {
  return (
    <div style={{ position: 'absolute', left: 0, top: 0, width: 1734, height: 2140, background: '#fff', overflow: 'hidden' }}>
      <ChartBox x={0} y={ROW_TOPS[0]} w={LEFT_W} h={ROW_H[0]} make={() => scatterConfig({
        title: 'SN2006kb (Ia)', offset: '1e−28', yMin: -0.225, yMax: 4.78, alpha: 0.8, legendX: 717, height: ROW_H[0],
        series: [['r', kbR], ['i', kbI], ['g', kbG], ['z', kbZ], ['u', kbU]],
      })} />
      <ChartBox x={HEAT_X} y={ROW_TOPS[0]} w={HEAT_W} h={ROW_H[0]} make={() => heatConfig({
        title: 'SN2006kb (Ia)', offset: '1e−28', grid: kbGrid, vMin: -0.525, vMax: 4.64, height: ROW_H[0],
      })} />
      <ChartBox x={1590} y={ROW_TOPS[0]} w={144} h={ROW_H[0]} make={() => colorbarConfig(-0.525, 4.64, [0, 1, 2, 3, 4], ROW_H[0])} />

      <ChartBox x={0} y={ROW_TOPS[1]} w={LEFT_W} h={ROW_H[1]} make={() => scatterConfig({
        title: 'SN2006lc (Ibc)', offset: '1e−27', yMin: -0.24, yMax: 5.15, alpha: 0.8, legendX: 159, height: ROW_H[1],
        series: [['r', lcR], ['i', lcI], ['g', lcG], ['u', lcU], ['V', lcV], ['z', lcZ], ['B', lcB], ['UVW2', lcW2], ['UVM2', lcM2], ['UVW1', lcW1], ['U', lcUU]],
      })} />
      <ChartBox x={HEAT_X} y={ROW_TOPS[1]} w={HEAT_W} h={ROW_H[1]} make={() => heatConfig({
        title: 'SN2006lc (Ibc)', offset: '1e−27', grid: lcGrid, vMin: -0.09, vMax: 4.98, height: ROW_H[1],
      })} />
      <ChartBox x={1590} y={ROW_TOPS[1]} w={144} h={ROW_H[1]} make={() => colorbarConfig(-0.09, 4.98, [0, 1, 2, 3, 4], ROW_H[1])} />

      <ChartBox x={0} y={ROW_TOPS[2]} w={LEFT_W} h={ROW_H[2]} make={() => scatterConfig({
        title: 'SN2007lj (II)', offset: '1e−28', yMin: -0.305, yMax: 6.83, alpha: 0.96, legendX: 717, height: ROW_H[2], xLabel: true,
        series: [['z', ljZ], ['g', ljG], ['r', ljR], ['i', ljI], ['u', ljU]],
      })} />
      <ChartBox x={HEAT_X} y={ROW_TOPS[2]} w={HEAT_W} h={ROW_H[2]} make={() => heatConfig({
        title: 'SN2007lj (II)', offset: '1e−28', grid: ljGrid, vMin: -1.56, vMax: 6.54, height: ROW_H[2], xLabel: true,
      })} />
      <ChartBox x={1590} y={ROW_TOPS[2]} w={144} h={ROW_H[2]} make={() => colorbarConfig(-1.56, 6.54, [-1, 0, 1, 2, 3, 4, 5, 6], ROW_H[2])} />
    </div>
  );
}
